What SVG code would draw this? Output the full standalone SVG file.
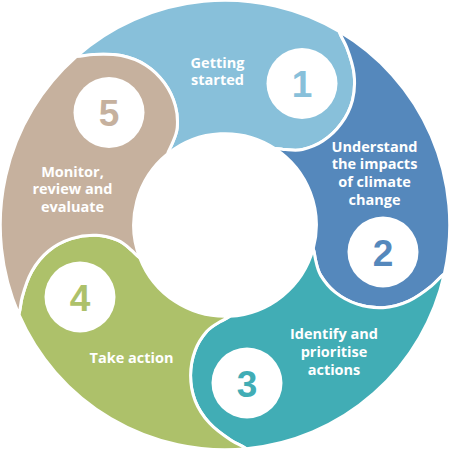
<svg xmlns="http://www.w3.org/2000/svg" width="450" height="450" viewBox="0 0 450 450">
<style>
.seg{stroke:#fff;stroke-width:3;stroke-linejoin:round}
.num{font-family:"Liberation Sans",Arial,sans-serif;font-weight:bold;font-size:37px;text-anchor:middle}
.lbl{font-family:"Open Sans","Noto Sans",sans-serif;font-weight:bold;font-size:14.5px;fill:#fff;text-anchor:middle}
.disc{fill:#fff}
</style>
<defs>
<path id="seg" d="M78.89,-210.42 A224.7 224.7 0 0 1 224.5,10 C220,14.7 218.8,18.5 214,24 C209.2,29.5 201.3,38 194,43 C186.7,48 178.3,52 170,54 C161.7,56 152.3,56.2 144,55 C135.7,53.8 126.8,50.7 120,47 C113.2,43.3 107.2,37.8 103,33 C98.8,28.2 96.8,22.2 95,18 C93.2,13.8 93,11.3 91,8 A91.35 91.35 0 0 0 35.73,-84.08 C39.49,-84.96 41.92,-84.38 46.48,-84.79 C51.02,-85.2 57.35,-85.25 63.22,-87.76 C69.08,-90.27 76.16,-94.28 81.78,-99.61 C87.4,-104.92 93.1,-112.43 96.81,-119.95 C100.51,-127.48 103.23,-136.48 103.89,-144.99 C104.55,-153.51 103.35,-162.73 100.85,-171.22 C98.35,-179.71 92.7,-189.84 88.96,-196.11 C85.21,-202.37 81.96,-204.69 78.89,-210.42 Z"/>
</defs>
<rect width="450" height="450" fill="#fff"/>
<g id="step1">
<use href="#seg" class="seg" fill="#88C0DA" transform="translate(225,225) rotate(-62)"/>
<circle class="disc" cx="302" cy="83.5" r="35.5"/>
<text class="num" x="302" y="97" fill="#88C0DA">1</text>
<text class="lbl" x="217.5" y="67.5"><tspan x="217.5">Getting</tspan><tspan x="217.5" dy="17.6">started</tspan></text>
</g>
<g id="step2">
<use href="#seg" class="seg" fill="#5588BC" transform="translate(225,225) rotate(10)"/>
<circle class="disc" cx="383" cy="252" r="35.5"/>
<text class="num" x="383" y="265.5" fill="#5588BC">2</text>
<text class="lbl" x="374.5" y="151.5"><tspan x="374.5">Understand</tspan><tspan x="374.5" dy="17.8">the impacts</tspan><tspan x="374.5" dy="17.8">of climate</tspan><tspan x="374.5" dy="17.8">change</tspan></text>
</g>
<g id="step3">
<use href="#seg" class="seg" fill="#41ADB5" transform="translate(225,225) rotate(82)"/>
<circle class="disc" cx="247" cy="383" r="35.5"/>
<text class="num" x="247" y="396.5" fill="#41ADB5">3</text>
<text class="lbl" x="334" y="339"><tspan x="334">Identify and</tspan><tspan x="334" dy="18">prioritise</tspan><tspan x="334" dy="18">actions</tspan></text>
</g>
<g id="step4">
<use href="#seg" class="seg" fill="#ADC16A" transform="translate(225,225) rotate(154)"/>
<circle class="disc" cx="80" cy="297" r="35.5"/>
<text class="num" x="80" y="310.5" fill="#ADC16A">4</text>
<text class="lbl" x="131.5" y="363">Take action</text>
</g>
<g id="step5">
<use href="#seg" class="seg" fill="#C6B19E" transform="translate(225,225) rotate(226)"/>
<circle class="disc" cx="109" cy="112.5" r="35.5"/>
<text class="num" x="109" y="126" fill="#C6B19E">5</text>
<text class="lbl" x="72.5" y="176.5"><tspan x="72.5">Monitor,</tspan><tspan x="72.5" dy="17.8">review and</tspan><tspan x="72.5" dy="17.8">evaluate</tspan></text>
</g>
</svg>
